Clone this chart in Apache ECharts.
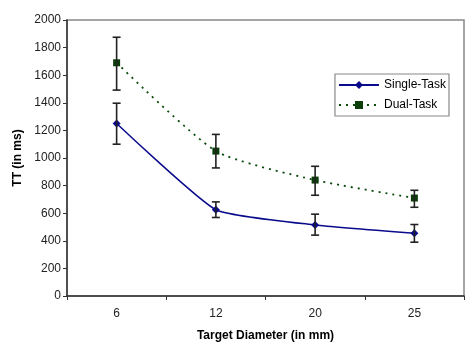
<!DOCTYPE html>
<html><head><meta charset="utf-8">
<script src="https://cdn.jsdelivr.net/npm/echarts@6/dist/echarts.min.js"></script>
<style>html,body{margin:0;padding:0;background:#fff}#c{width:474px;height:355px}</style>
</head><body><div id="c"></div>
<script>
const categories = ['6', '12', '20', '25'];
const singleTask = [1250, 625, 515, 455];
const singleLow = [1100, 569, 441, 390];
const singleHigh = [1397, 682, 593, 518];
const dualTask = [1690, 1050, 840, 710];
const dualLow = [1492, 928, 730, 643];
const dualHigh = [1875, 1171, 940, 766];

function errData(low, high) {
  return categories.map((c, i) => [i, low[i], high[i]]);
}
function errSeries(low, high) {
  return {
    type: 'custom',
    data: errData(low, high),
    z: 5,
    silent: true,
    renderItem: function (params, api) {
      const x = api.value(0);
      const lo = api.coord([x, api.value(1)]);
      const hi = api.coord([x, api.value(2)]);
      const w = 4;
      const st = { stroke: '#222', lineWidth: 1.6 };
      return { type: 'group', children: [
        { type: 'line', shape: { x1: lo[0], y1: lo[1], x2: hi[0], y2: hi[1] }, style: st },
        { type: 'line', shape: { x1: lo[0] - w, y1: lo[1], x2: lo[0] + w, y2: lo[1] }, style: st },
        { type: 'line', shape: { x1: hi[0] - w, y1: hi[1], x2: hi[0] + w, y2: hi[1] }, style: st }
      ]};
    }
  };
}

const chart = echarts.init(document.getElementById('c'));
chart.setOption({
  animation: false,
  grid: { left: 67, right: 10, top: 20, bottom: 59, show: true, borderColor: '#888', borderWidth: 1.5 },
  legend: {
    right: 25, top: 74, orient: 'vertical', itemGap: 8, itemWidth: 40, itemHeight: 10,
    borderColor: '#888', borderWidth: 1.2, padding: [5, 3, 5, 3],
    textStyle: { fontFamily: 'Liberation Sans, Arial', fontSize: 12, color: '#000' },
    data: ['Single-Task', 'Dual-Task']
  },
  xAxis: {
    type: 'category', data: categories, boundaryGap: true,
    name: 'Target Diameter (in mm)', nameLocation: 'middle', nameGap: 34,
    nameTextStyle: { fontFamily: 'Liberation Sans, Arial', fontWeight: 'bold', fontSize: 12, color: '#000' },
    axisLine: { lineStyle: { color: '#333', width: 1.5 } },
    axisTick: { show: true, length: 4, lineStyle: { color: '#333' } },
    axisLabel: { fontFamily: 'Liberation Sans, Arial', fontSize: 12, color: '#222', margin: 12 }
  },
  yAxis: {
    type: 'value', min: 0, max: 2000, interval: 200,
    name: 'TT (in ms)', nameLocation: 'middle', nameGap: 40, nameRotate: 90,
    nameTextStyle: { fontFamily: 'Liberation Sans, Arial', fontWeight: 'bold', fontSize: 12, color: '#000' },
    axisLine: { show: true, lineStyle: { color: '#333', width: 1.5 } },
    axisTick: { show: true, length: 4, lineStyle: { color: '#333' } },
    splitLine: { show: false },
    axisLabel: { fontFamily: 'Liberation Sans, Arial', fontSize: 12, color: '#222', margin: 6,
      formatter: function (v) { return String(v); } }
  },
  series: [
    {
      name: 'Single-Task', type: 'line', data: singleTask, smooth: 0.15,
      symbol: 'diamond', symbolSize: 8,
      lineStyle: { color: '#0a0a8c', width: 1.5 },
      itemStyle: { color: '#0a0a8c' }, z: 3
    },
    {
      name: 'Dual-Task', type: 'line', data: dualTask, smooth: 0.2,
      symbol: 'rect', symbolSize: 7,
      lineStyle: { color: '#0b4a0b', width: 1.8, type: [2, 5] },
      itemStyle: { color: '#0b3d0b' }, z: 3
    },
    errSeries(singleLow, singleHigh),
    errSeries(dualLow, dualHigh)
  ]
});
</script></body></html>
